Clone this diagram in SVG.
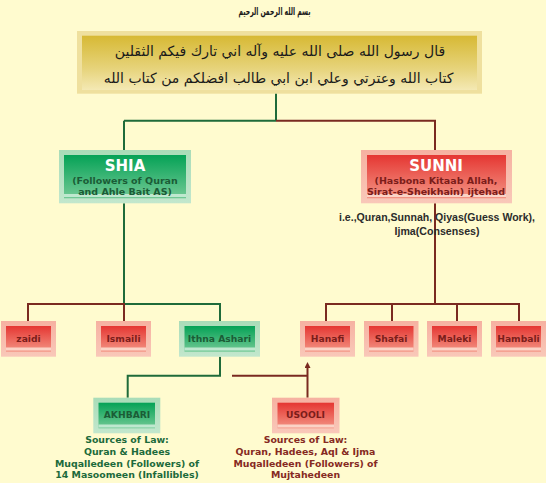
<svg xmlns="http://www.w3.org/2000/svg" width="546" height="483" viewBox="0 0 546 483">
<defs>
<linearGradient id="gGold" x1="0" y1="0" x2="0" y2="1">
<stop offset="0" stop-color="#d7b934"/><stop offset="0.6" stop-color="#e6d37a"/><stop offset="1" stop-color="#f4e9b4"/>
</linearGradient>
<linearGradient id="gRedIn" x1="0" y1="0" x2="0" y2="1">
<stop offset="0" stop-color="#e53632"/><stop offset="1" stop-color="#f39484"/>
</linearGradient>
<linearGradient id="gRedOut" x1="0" y1="0" x2="0" y2="1">
<stop offset="0" stop-color="#f6b1a1"/><stop offset="1" stop-color="#f9c8b9"/>
</linearGradient>
<linearGradient id="gGrnIn" x1="0" y1="0" x2="0" y2="1">
<stop offset="0" stop-color="#05a256"/><stop offset="1" stop-color="#72c995"/>
</linearGradient>
<linearGradient id="gGrnOut" x1="0" y1="0" x2="0" y2="1">
<stop offset="0" stop-color="#a9dcb8"/><stop offset="1" stop-color="#c2e7cd"/>
</linearGradient>
<marker id="arrUp" viewBox="0 0 6 6" refX="0" refY="3" markerWidth="6" markerHeight="6" orient="auto" markerUnits="userSpaceOnUse">
<path d="M0,0 L6,3 L0,6 Z" fill="#7a2a20"/>
</marker>
<style>
.g{stroke:#1f6b3a;stroke-width:2;fill:none}
.b{stroke:#7a2a20;stroke-width:2;fill:none}
.ro{fill:url(#gRedOut)}
.ri{fill:url(#gRedIn)}
.rs{fill:#fbd3c6}
.go{fill:url(#gGrnOut)}
.gi{fill:url(#gGrnIn)}
.gs{fill:#bfe8cf}
.lab{font-family:"DejaVu Sans",Verdana,sans-serif;font-weight:bold;text-anchor:middle}
.rl{fill:#7b1d1a;font-size:9.2px}
.gl{fill:#1b5c36;font-size:9.2px}
.ttl{fill:#ffffff;font-size:15px}
.sub{font-size:9.5px}
.src{font-size:9.4px}
.ar{font-family:"DejaVu Sans",sans-serif;fill:#1a1a1a;text-anchor:middle}
.ie{font-family:"Liberation Sans Narrow","Liberation Sans",Arial,sans-serif;font-weight:bold;fill:#2b2b2b;font-size:10.5px;text-anchor:middle}
</style>
</defs>
<rect width="546" height="483" fill="#fffbcf"/>

<g id="bismillah">
<text class="ar" x="274.5" y="15" font-size="11" font-weight="bold" textLength="72" lengthAdjust="spacingAndGlyphs">بسم الله الرحمن الرحيم</text>
</g>

<g id="hadith">
<rect x="77" y="31" width="405" height="62.7" fill="#efe09e"/>
<rect x="82" y="35.7" width="395" height="54.3" fill="url(#gGold)"/>
<text class="ar" x="280" y="56" font-size="14">قال رسول الله صلى الله عليه وآله اني تارك فيكم الثقلين</text>
<text class="ar" x="278.5" y="83" font-size="14">كتاب الله وعترتي وعلي ابن ابي طالب افضلكم من كتاب الله</text>
</g>

<g id="connectors">
<path class="g" d="M276,93.7 V120.7 M124,120.7 H276 M124,120.7 V150"/>
<path class="b" d="M276,120.7 H435 V150"/>
<path class="g" d="M124,203.3 V304 H220 V321"/>
<path class="b" d="M28,321 V304 H124 V321"/>
<path class="b" d="M435,203.3 V304 M326,321 V304 H519 V321 M392,304 V321 M457,304 V321"/>
<path class="g" d="M220,356.7 V375.7 H127.7 V397.7"/>
<path class="b" d="M232,375.7 H307.5"/>
<path class="b" d="M307.5,397.7 V368" marker-end="url(#arrUp)"/>
</g>

<g id="shia">
<rect class="go" x="59" y="150" width="132" height="53.3"/>
<rect class="gi" x="64" y="155" width="122" height="43.3"/>
<rect class="gs" x="64" y="194" width="122" height="3"/>
<text class="lab ttl" x="125" y="171">SHIA</text>
<text class="lab gl sub" x="125" y="183.5">(Followers of Quran</text>
<text class="lab gl sub" x="125" y="195.2">and Ahle Bait AS)</text>
</g>

<g id="sunni">
<rect class="ro" x="361" y="150" width="151" height="53.3"/>
<rect class="ri" x="367" y="155" width="139" height="43.3"/>
<rect class="rs" x="367" y="194" width="139" height="3"/>
<text class="lab ttl" x="436" y="171">SUNNI</text>
<text class="lab rl sub" x="436" y="183.5">(Hasbona Kitaab Allah,</text>
<text class="lab rl sub" x="436" y="195.2">Sirat-e-Sheikhain) ijtehad</text>
</g>

<g id="sunni-note">
<text class="ie" x="437" y="221" textLength="196" lengthAdjust="spacingAndGlyphs">i.e.,Quran,Sunnah, Qiyas(Guess Work),</text>
<text class="ie" x="437" y="234.7" textLength="85" lengthAdjust="spacingAndGlyphs">Ijma(Consenses)</text>
</g>

<g id="zaidi">
<rect class="ro" x="1" y="321" width="55" height="35.7"/>
<rect class="ri" x="6" y="326" width="45" height="25.7"/>
<rect class="rs" x="6" y="347.5" width="45" height="3"/>
<text class="lab rl" x="28.5" y="342">zaidi</text>
</g>

<g id="ismaili">
<rect class="ro" x="96" y="321" width="55" height="35.7"/>
<rect class="ri" x="101" y="326" width="45" height="25.7"/>
<rect class="rs" x="101" y="347.5" width="45" height="3"/>
<text class="lab rl" x="123.5" y="342">Ismaili</text>
</g>

<g id="ithna-ashari">
<rect class="go" x="179" y="321" width="81" height="35.7"/>
<rect class="gi" x="184.5" y="326" width="70.5" height="25.7"/>
<rect class="gs" x="184.5" y="347.5" width="70.5" height="3"/>
<text class="lab gl" x="219.5" y="342">Ithna Ashari</text>
</g>

<g id="hanafi">
<rect class="ro" x="300" y="321" width="55" height="35.7"/>
<rect class="ri" x="305" y="326" width="45" height="25.7"/>
<rect class="rs" x="305" y="347.5" width="45" height="3"/>
<text class="lab rl" x="327.5" y="342">Hanafi</text>
</g>

<g id="shafai">
<rect class="ro" x="364" y="321" width="54.5" height="35.7"/>
<rect class="ri" x="369" y="326" width="44.5" height="25.7"/>
<rect class="rs" x="369" y="347.5" width="44.5" height="3"/>
<text class="lab rl" x="391" y="342">Shafai</text>
</g>

<g id="maleki">
<rect class="ro" x="427" y="321" width="55" height="35.7"/>
<rect class="ri" x="432" y="326" width="45" height="25.7"/>
<rect class="rs" x="432" y="347.5" width="45" height="3"/>
<text class="lab rl" x="454.5" y="342">Maleki</text>
</g>

<g id="hambali">
<rect class="ro" x="491" y="321" width="55" height="35.7"/>
<rect class="ri" x="496" y="326" width="45" height="25.7"/>
<rect class="rs" x="496" y="347.5" width="45" height="3"/>
<text class="lab rl" x="518.5" y="342">Hambali</text>
</g>

<g id="akhbari">
<rect class="go" x="93.3" y="397.7" width="67" height="35.6"/>
<rect class="gi" x="98.5" y="402.7" width="56.5" height="25.6"/>
<rect class="gs" x="98.5" y="424.5" width="56.5" height="3"/>
<text class="lab gl" x="127" y="418.3">AKHBARI</text>
<text class="lab src" fill="#1c6a3b" x="127" y="443.3">Sources of Law:</text>
<text class="lab src" fill="#1c6a3b" x="127" y="455">Quran &amp; Hadees</text>
<text class="lab src" fill="#1c6a3b" x="127" y="466.6">Muqalledeen (Followers) of</text>
<text class="lab src" fill="#1c6a3b" x="127" y="478">14 Masoomeen (Infallibles)</text>
</g>

<g id="usooli">
<rect class="ro" x="272" y="397.7" width="67.5" height="35.6"/>
<rect class="ri" x="277.5" y="402.7" width="56.5" height="25.6"/>
<rect class="rs" x="277.5" y="424.5" width="56.5" height="3"/>
<text class="lab rl" x="305.5" y="418.3">USOOLI</text>
<text class="lab src" fill="#862a22" x="305.5" y="443.3">Sources of Law:</text>
<text class="lab src" fill="#862a22" x="305.5" y="455">Quran, Hadees, Aql &amp; Ijma</text>
<text class="lab src" fill="#862a22" x="305.5" y="466.6">Muqalledeen (Followers) of</text>
<text class="lab src" fill="#862a22" x="305.5" y="478">Mujtahedeen</text>
</g>
</svg>
